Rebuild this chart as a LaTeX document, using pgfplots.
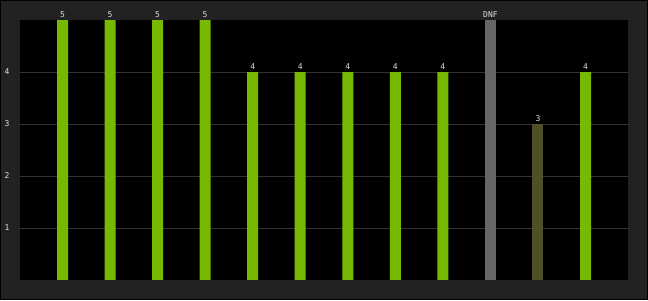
\documentclass[border=0pt]{standalone}
\usepackage{fontspec}
\setmonofont{DejaVu Sans Mono}
\usepackage{pgfplots}
\pgfplotsset{compat=1.18}
\definecolor{bgouter}{HTML}{222222}
\definecolor{nvgreen}{HTML}{76B900}
\definecolor{dnfgrey}{HTML}{666666}
\definecolor{olive}{HTML}{4F4F28}
\definecolor{gridc}{HTML}{333333}
\definecolor{txt}{HTML}{E0E0E0}
\begin{document}
\begin{tikzpicture}[x=1pt,y=1pt]
\fill[bgouter] (0,0) rectangle (648,300);
\draw[black, line width=1pt] (0.5,0.5) rectangle (647.5,299.5);
\begin{axis}[
  at={(20pt,20pt)}, anchor=south west,
  scale only axis, width=608pt, height=260pt,
  xmin=-0.894, xmax=11.894, ymin=0, ymax=5,
  axis background/.style={fill=black},
  axis line style={draw=none},
  xtick=\empty,
  ytick={1,2,3,4},
  ymajorgrids, grid style={gridc, line width=0.8pt},
  major tick length=0pt,
  /pgf/number format/assume math mode=true,
  yticklabel style={font=\ttfamily\fontsize{8}{9}\selectfont, text=txt, anchor=center, xshift=-13pt},
  clip=false,
  nodes near coords style={font=\ttfamily\fontsize{8}{9}\selectfont, text=txt, anchor=south, inner sep=2pt},
]
\addplot[ybar, bar width=11pt, bar shift=0pt, fill=nvgreen, draw=none,
  point meta=explicit symbolic, nodes near coords] coordinates {
  (0,5) [5] (1,5) [5] (2,5) [5] (3,5) [5] (4,4) [4] (5,4) [4] (6,4) [4] (7,4) [4] (8,4) [4] (11,4) [4]};
\addplot[ybar, bar width=11pt, bar shift=0pt, fill=dnfgrey, draw=none,
  point meta=explicit symbolic, nodes near coords] coordinates {(9,5) [DNF]};
\addplot[ybar, bar width=11pt, bar shift=0pt, fill=olive, draw=none,
  point meta=explicit symbolic, nodes near coords] coordinates {(10,3) [3]};
\end{axis}
\end{tikzpicture}
\end{document}
